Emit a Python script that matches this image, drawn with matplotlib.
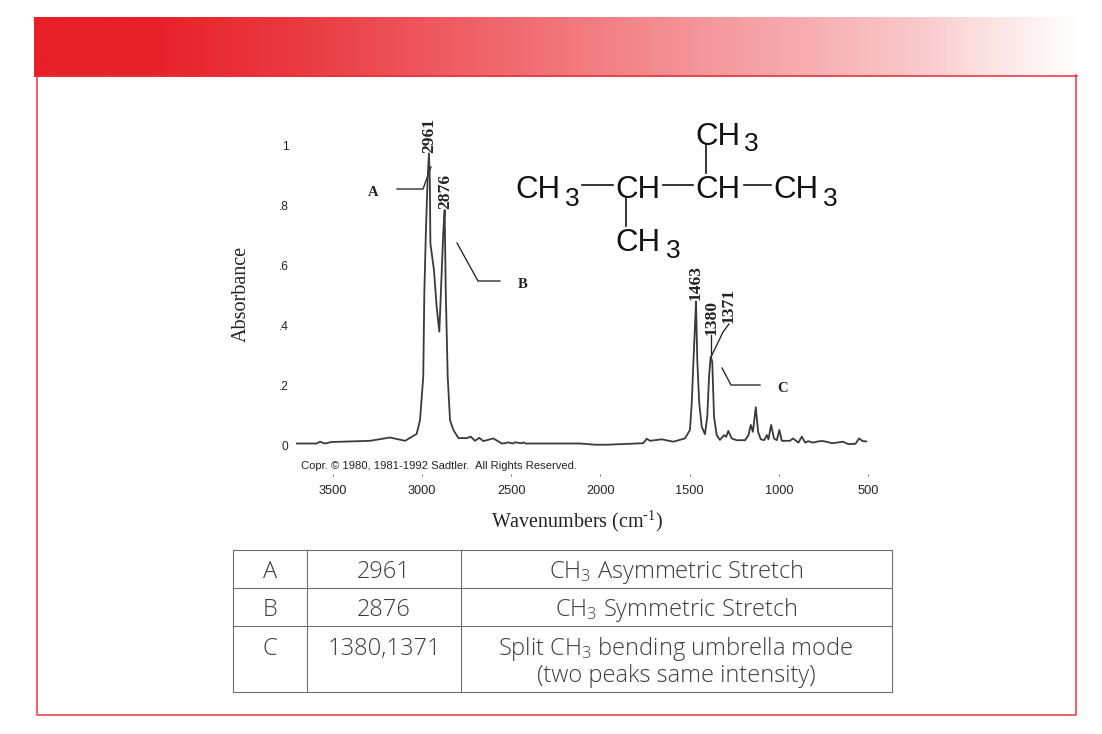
# Spectro IR con estructura y tabla de asignaciones
import numpy as np
import matplotlib
matplotlib.use("Agg")
import matplotlib.pyplot as plt

plt.rcParams["mathtext.fontset"] = "custom"
plt.rcParams["mathtext.default"] = "regular"

# ---------------------------------------------------------------
# DATOS
# ---------------------------------------------------------------
wavenumber = [3702, 3590, 3572, 3544, 3506, 3291, 3179, 3095, 3030, 3011, 2993, 2987, 2978, 2968, 2961, 2956,
              2953, 2933, 2918, 2903, 2892, 2881, 2873, 2867, 2856, 2843, 2824, 2796, 2749, 2727, 2703,
              2679, 2656, 2600, 2553, 2530, 2520, 2490, 2480, 2440, 2430, 2420, 2114, 2030, 1960, 1800, 1760,
              1740, 1722, 1656, 1591, 1526, 1498, 1488, 1479, 1470, 1464, 1457, 1446, 1432, 1414, 1401,
              1391, 1382, 1373, 1363, 1348, 1330, 1307, 1295, 1283, 1264, 1236, 1189, 1170, 1157, 1145,
              1129, 1116, 1101, 1082, 1067, 1058, 1043, 1027, 1011, 997, 983, 937, 921, 890, 871,
              852, 835, 810, 770, 750, 700, 640, 610, 570, 550, 530, 510]
absorbance = [0.005, 0.005, 0.011, 0.005, 0.010, 0.014, 0.025, 0.014, 0.037, 0.083, 0.228, 0.506, 0.717, 0.894, 0.972, 0.880,
              0.672, 0.583, 0.461, 0.378, 0.540, 0.706, 0.783, 0.517, 0.228, 0.083, 0.050, 0.023, 0.023, 0.028, 0.014,
              0.024, 0.013, 0.022, 0.005, 0.006, 0.009, 0.005, 0.009, 0.006, 0.009, 0.005, 0.005, 0.001, 0.001, 0.005, 0.006,
              0.021, 0.014, 0.019, 0.011, 0.022, 0.050, 0.140, 0.272, 0.394, 0.478, 0.283, 0.140, 0.061, 0.036, 0.094,
              0.228, 0.294, 0.278, 0.094, 0.033, 0.017, 0.033, 0.027, 0.047, 0.022, 0.016, 0.016, 0.033, 0.067, 0.044,
              0.126, 0.044, 0.019, 0.016, 0.033, 0.019, 0.067, 0.022, 0.016, 0.050, 0.014, 0.014, 0.022, 0.008, 0.028,
              0.008, 0.013, 0.008, 0.013, 0.013, 0.006, 0.011, 0.003, 0.004, 0.022, 0.013, 0.012]

x_ticks = [3500, 3000, 2500, 2000, 1500, 1000, 500]
y_ticks = [0, 0.2, 0.4, 0.6, 0.8, 1]
y_labels = ["0", ".2", ".4", ".6", ".8", "1"]

row_letters = ["A", "B", "C"]
row_peaks = ["2961", "2876", "1380,1371"]
row_modes = ["CH$_3$ Asymmetric Stretch", "CH$_3$ Symmetric Stretch",
             "Split CH$_3$ bending umbrella mode\n(two peaks same intensity)"]

# ---------------------------------------------------------------
# FONDO: cabecera en degradado y marco (coordenadas en pixeles)
# ---------------------------------------------------------------
W, H = 1102, 734
fig = plt.figure(figsize=(W / 100, H / 100), dpi=100)
bg = fig.add_axes([0, 0, 1, 1])
bg.set_xlim(0, W)
bg.set_ylim(H, 0)
bg.axis("off")

cols = np.arange(34, 1079)
frac = np.interp(cols, [34, 150, 300, 900, 1078], [0, 0.0, 0.117, 0.73, 1.0])
red = np.array([232, 32, 40]) / 255
grad = red + (1 - red) * frac[:, None]
bg.imshow(grad[None, :, :], extent=(34, 1078, 77, 17), aspect="auto", zorder=1)
bg.set_xlim(0, W)
bg.set_ylim(H, 0)

frame_c = "#ee4a52"
bg.plot([36.5, 36.5, 1076, 1076], [77, 715, 715, 75], color=frame_c, lw=1.25, zorder=2)
bg.plot([36, 1076.5], [75.5, 75.5], color="#e8303a", lw=1.1, zorder=2)

# ---------------------------------------------------------------
# ESPECTRO
# ---------------------------------------------------------------
ax = fig.add_axes([296 / W, 1 - 476 / H, (868 - 296) / W, (476 - 110) / H])
ax.patch.set_visible(False)
ax.plot(wavenumber, absorbance, color="#3a3a3a", lw=1.3, solid_joinstyle="round")
ax.set_xlim(3706.3, 500)
ax.set_ylim(-0.1033, 1.1167)
for s in ax.spines.values():
    s.set_visible(False)
ax.set_xticks(x_ticks)
ax.set_yticks(y_ticks)
ax.set_yticklabels(y_labels)
ax.tick_params(axis="x", direction="in", length=1.2, width=0.7, color="#666666", pad=6.5,
               labelsize=9.2, labelcolor="#222222")
ax.tick_params(axis="y", length=0, pad=5.5, labelsize=8.6, labelcolor="#222222")
for t in ax.get_xticklabels() + ax.get_yticklabels():
    t.set_family("Liberation Sans")

serif = "Liberation Serif"
bg.text(241, 294, "Absorbance", family=serif, fontsize=14.5, rotation=90, ha="center", va="center", color="#222222")
bg.text(577, 521, r"Wavenumbers (cm$^{\text{-}1}$)", family=serif, fontsize=14.4, ha="center", va="center", color="#222222")
bg.text(301, 466, "Copr. \u00a9 1980, 1981-1992 Sadtler.  All Rights Reserved.", family="Liberation Sans",
        fontsize=8.1, ha="left", va="center", color="#222222")

# etiquetas de picos
for label, px, bottom in [("2961", 429, 153), ("2876", 445, 209), ("1463", 696, 300),
                          ("1380", 712, 335), ("1371", 729, 323)]:
    bg.text(px, bottom, label, family=serif, weight="bold", fontsize=12.6, rotation=90,
            ha="center", va="bottom", color="#222222")

# lineas guia A, B, C
lead = dict(color="#222222", lw=0.95, zorder=3)
bg.plot([397, 423, 431], [189, 189, 167], **lead)
bg.plot([457, 478, 500], [243, 281, 281], **lead)
bg.plot([722, 731, 760], [368, 385, 385], **lead)
bg.plot([711, 711], [335, 358], **lead)
bg.plot([729, 723, 712], [324, 332, 355], **lead)
for letter, px, py in [("A", 373, 193), ("B", 523, 284), ("C", 783, 388)]:
    bg.text(px, py, letter, family=serif, weight="bold", fontsize=10.5, ha="center", va="center", color="#222222")

# ---------------------------------------------------------------
# ESTRUCTURA
# ---------------------------------------------------------------
mol = dict(family="Liberation Sans", color="#111111", ha="left", va="baseline")
for px, py in [(515, 198), (615, 198), (695, 198), (773, 198), (695, 145), (615, 251)]:
    bg.text(px, py, "CH", fontsize=22.5, **mol)
for px, py in [(565, 206), (823, 206), (744, 151), (666, 258)]:
    bg.text(px, py, "3", fontsize=19, **mol)
bond = dict(color="#111111", lw=1.2)
for x0, x1 in [(582, 613), (663, 693), (744, 771)]:
    bg.plot([x0, x1], [185, 185], **bond)
bg.plot([706, 706], [145, 173], **bond)
bg.plot([626, 626], [198, 226], **bond)

# ---------------------------------------------------------------
# TABLA
# ---------------------------------------------------------------
line_c = "#6e6e6e"
for yy in [549.5, 588, 626, 691.5]:
    bg.plot([233, 892], [yy, yy], color=line_c, lw=0.8)
for xx in [233, 307, 461, 892]:
    bg.plot([xx, xx], [549.5, 691.5], color=line_c, lw=0.8)

cell = dict(family="Open Sans", weight=300, fontsize=17, color="#3c3c3c", ha="center")
row_y = [578, 616.5, 655]
for letter, peak, mode, yy in zip(row_letters, row_peaks, row_modes, row_y):
    bg.text(270, yy, letter, va="baseline", **cell)
    bg.text(384, yy, peak, va="baseline", **cell)
    if "\n" in mode:
        first, second = mode.split("\n")
        bg.text(676, yy, first, va="baseline", **cell)
        bg.text(676, yy + 27, second, va="baseline", **cell)
    else:
        bg.text(676, yy, mode, va="baseline", **cell)

fig.savefig("out.png", dpi=100)
